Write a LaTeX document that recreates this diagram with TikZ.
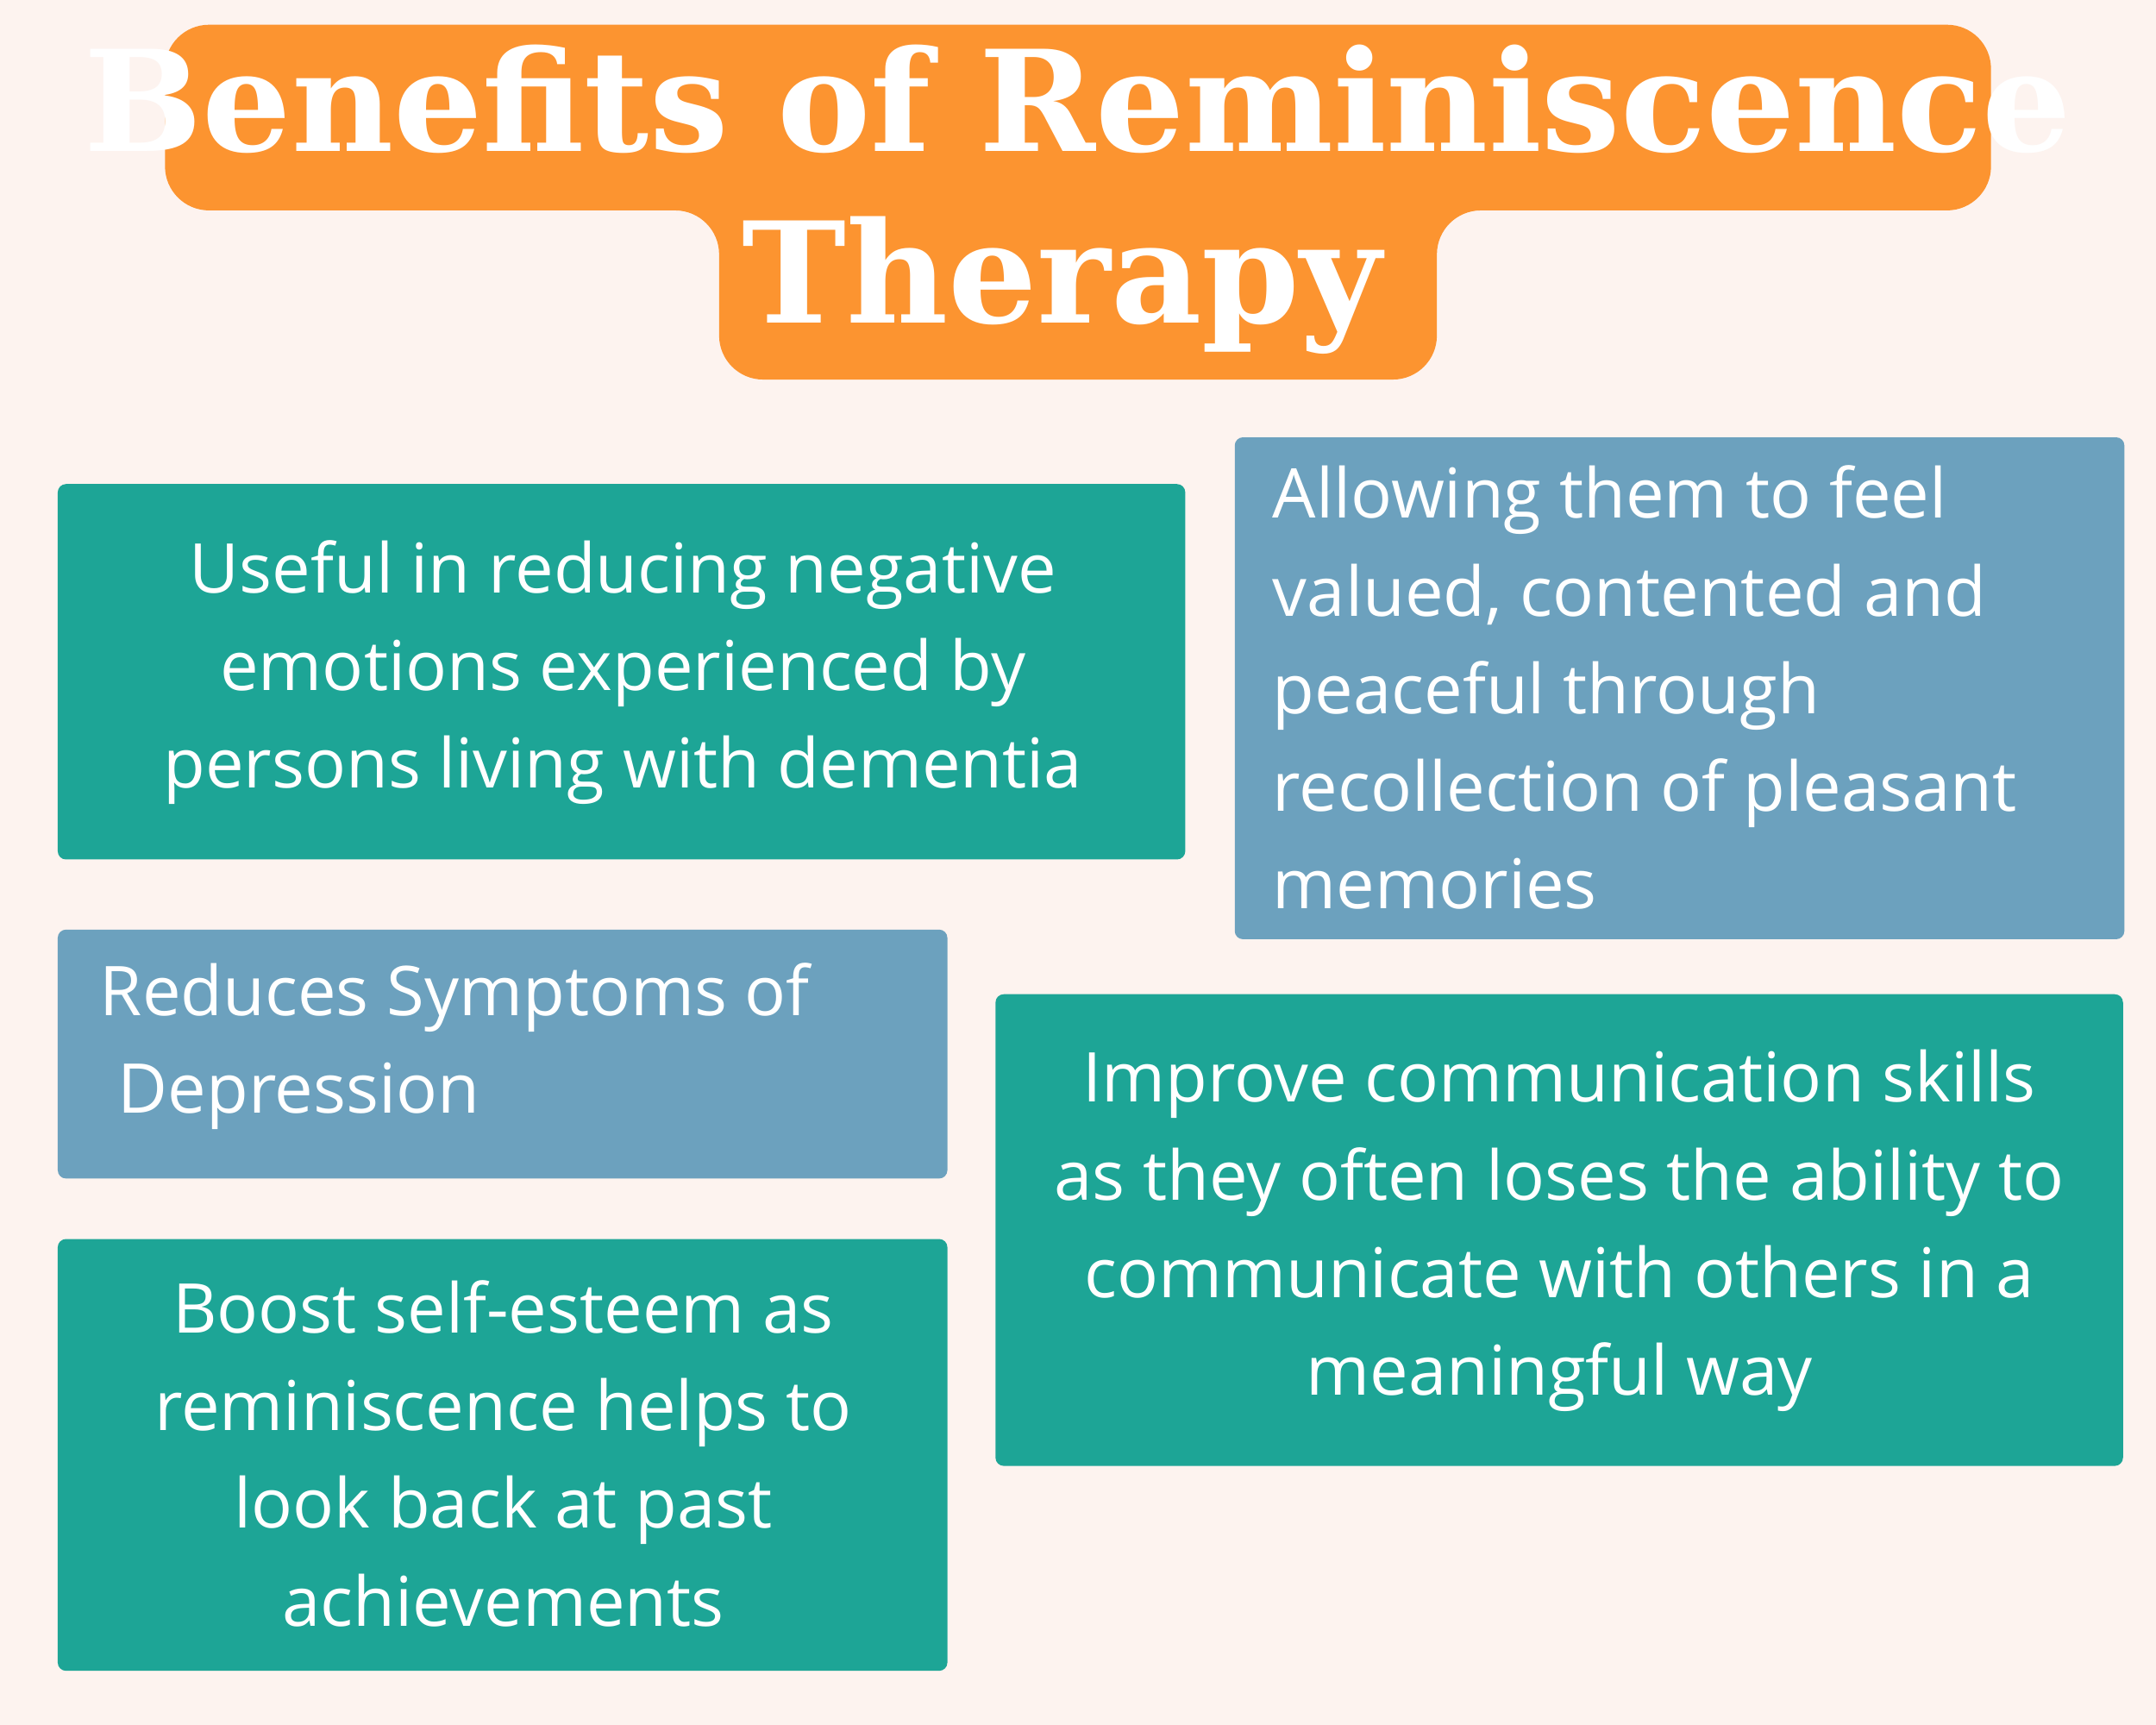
\documentclass[tikz,border=0pt]{standalone}
\usepackage{fontspec}
\setmainfont{Open Sans}
\newfontfamily\titlefont{DejaVu Serif}
\definecolor{bg}{HTML}{FDF3EF}
\definecolor{orng}{HTML}{FC9430}
\definecolor{teal}{HTML}{1DA596}
\definecolor{blu}{HTML}{6CA1BE}
\tikzset{
  box/.style={rounded corners=0.6mm},
  txt/.style={text=white,font=\fontsize{14.2pt}{20.2pt}\selectfont,inner sep=0pt},
  ttl/.style={text=white,font=\titlefont\bfseries\fontsize{29pt}{35.5pt}\selectfont,inner sep=0pt,anchor=base}
}
\begin{document}
\begin{tikzpicture}[x=0.1mm,y=-0.1mm]
\fill[bg] (0,0) rectangle (1568,1254.4);
\useasboundingbox (0,0) rectangle (1568,1254.4);
\fill[orng,rounded corners=3.2mm] (120,18)--(1448,18)--(1448,153)--(1045,153)--(1045,276)--(523,276)--(523,153)--(120,153)--cycle;
\node[ttl] (t1) at (784,110) {Benefits of Reminiscence};
\node[ttl] (t2) at (772,235) {Therapy};
\fill[teal,box] (42,352) rectangle (862,625);
\fill[blu,box] (898,318) rectangle (1545,683);
\fill[blu,box] (42,676) rectangle (689,857);
\fill[teal,box] (42,901) rectangle (689,1215);
\fill[teal,box] (724,723) rectangle (1544,1066);
\node[txt,align=center] (b1) at (453,489) {Useful in reducing negative\\emotions experienced by\\persons living with dementia};
\node[txt,align=left,anchor=west] (b2) at (925,500) {Allowing them to feel\\valued, contented and\\peaceful through\\recollection of pleasant\\memories};
\node[txt,align=left,anchor=west] (b3) at (72,761) {Reduces Symptoms of\\\hspace*{1.3mm}Depression};
\node[txt,align=center] (b4) at (366,1057) {Boost self-esteem as\\reminiscence helps to\\look back at past\\achievements};
\node[txt,align=center] (b5) at (1134,895) {Improve communication skills\\as they often loses the ability to\\communicate with others in a\\meaningful way};
\end{tikzpicture}
\end{document}
